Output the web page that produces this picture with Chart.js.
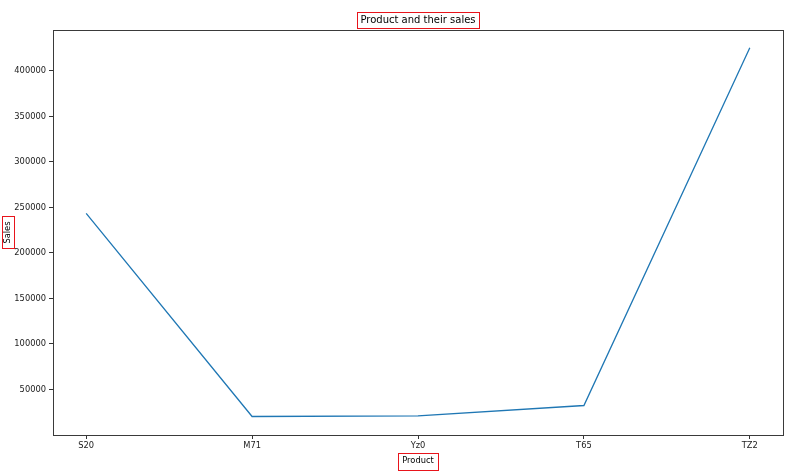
<!DOCTYPE html>
<html>
<head>
<meta charset="utf-8">
<title>Product and their sales</title>
<script src="https://cdn.jsdelivr.net/npm/chart.js@4.4.0/dist/chart.umd.min.js"></script>
<style>
  html, body { margin: 0; padding: 0; background: #fff; }
  #wrap { width: 800px; height: 471px; }
</style>
</head>
<body>
<div id="wrap"><canvas id="chart"></canvas></div>
<script>
// data
const products = ['S20', 'M71', 'Yz0', 'T65', 'TZ2'];
const sales    = [243500, 20300, 21000, 32400, 425600];
const yTicks   = [50000, 100000, 150000, 200000, 250000, 300000, 350000, 400000];

const TITLE   = 'Product and their sales';
const X_TITLE = 'Product';
const Y_TITLE = 'Sales';

const FONT       = 'DejaVu Sans';
const TICK_SIZE  = 8.3;
const TITLE_SIZE = 10;
const BOX_RED    = '#e8141b';

function redBox(ctx, x, y, w, h) {
  ctx.strokeStyle = BOX_RED;
  ctx.lineWidth = 1;
  ctx.strokeRect(Math.round(x) + 0.5, Math.round(y) + 0.5, Math.round(w), Math.round(h));
}

// axes frame + red boxes round the title and the axis labels
const frameAndBoxes = {
  id: 'frameAndBoxes',
  afterDraw(chart) {
    const ctx = chart.ctx;
    const a = chart.chartArea;
    ctx.save();

    ctx.strokeStyle = '#3a3a3a';
    ctx.lineWidth = 1;
    ctx.strokeRect(Math.round(a.left) + 0.5, Math.round(a.top) + 0.5,
                   Math.round(a.right - a.left), Math.round(a.bottom - a.top));

    const cx = (a.left + a.right) / 2;

    // title
    ctx.font = `${TITLE_SIZE}px "${FONT}"`;
    let w = ctx.measureText(TITLE).width;
    let cy = 14 + TITLE_SIZE * 1.2 / 2;
    redBox(ctx, cx - w / 2 - 3, cy - 8.5, w + 7, 16);

    // x label
    ctx.font = `${TICK_SIZE}px "${FONT}"`;
    w = ctx.measureText(X_TITLE).width;
    cy = chart.height - 5 - TICK_SIZE * 1.2 / 2;
    redBox(ctx, cx - w / 2 - 4, cy - 8.5, w + 8, 17);

    // y label (rotated)
    w = ctx.measureText(Y_TITLE).width;
    const lx = 3 + TICK_SIZE * 1.2 / 2;
    const ly = (a.top + a.bottom) / 2;
    redBox(ctx, lx - 6, ly - w / 2 - 5, 12, w + 10);

    ctx.restore();
  }
};

const tickFont = { family: FONT, size: TICK_SIZE };

new Chart(document.getElementById('chart'), {
  type: 'line',
  data: {
    datasets: [{
      data: sales.map((v, i) => ({ x: i, y: v })),
      borderColor: '#1f77b4',
      borderWidth: 1.3,
      pointRadius: 0,
      tension: 0,
      fill: false
    }]
  },
  options: {
    responsive: true,
    maintainAspectRatio: false,
    animation: false,
    layout: { padding: { left: 0, right: 17, top: 0, bottom: 0 } },
    plugins: {
      legend: { display: false },
      tooltip: { enabled: false },
      title: {
        display: true,
        text: TITLE,
        fullSize: false,
        color: '#000',
        font: { family: FONT, size: TITLE_SIZE, weight: 'normal' },
        padding: { top: 14, bottom: 4 }
      }
    },
    scales: {
      x: {
        type: 'linear',
        min: -0.2,
        max: 4.2,
        afterBuildTicks: s => { s.ticks = products.map((_, i) => ({ value: i })); },
        afterFit: s => { s.height = 36; },
        ticks: {
          color: '#222',
          font: tickFont,
          padding: 2,
          maxRotation: 0,
          callback: v => products[v]
        },
        grid: { drawOnChartArea: false, drawTicks: true, tickLength: 4, tickColor: '#333' },
        border: { display: false },
        title: {
          display: true,
          text: X_TITLE,
          color: '#000',
          font: tickFont,
          padding: { top: 0, bottom: 5 }
        }
      },
      y: {
        min: 0,
        max: 445000,
        afterBuildTicks: s => { s.ticks = yTicks.map(v => ({ value: v })); },
        afterFit: s => { s.width = 53; },
        ticks: {
          color: '#222',
          font: tickFont,
          padding: 3,
          callback: v => String(v)
        },
        grid: { drawOnChartArea: false, drawTicks: true, tickLength: 4, tickColor: '#333' },
        border: { display: false },
        title: {
          display: true,
          text: Y_TITLE,
          color: '#000',
          font: tickFont,
          padding: { top: 3, bottom: 0 }
        }
      }
    }
  },
  plugins: [frameAndBoxes]
});
</script>
</body>
</html>
